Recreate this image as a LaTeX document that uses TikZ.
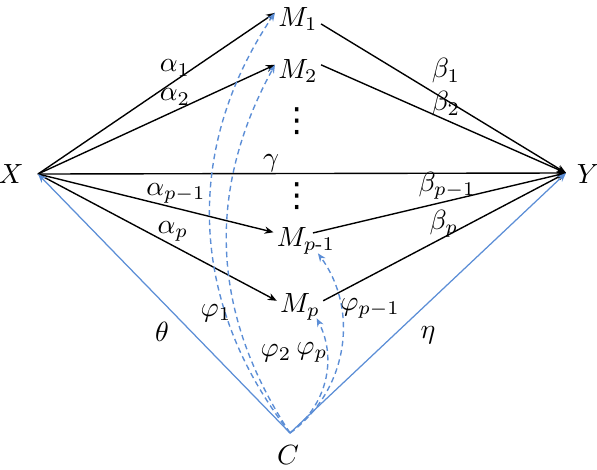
\documentclass[tikz,border=0pt]{standalone}
\usepackage{amsmath}
\usepackage{fontspec}
\newfontfamily\dotsfont{DejaVu Sans}
\usetikzlibrary{arrows.meta}
\definecolor{pathblue}{RGB}{92,142,214}
\begin{document}
\begin{tikzpicture}[x=0.36pt, y=-0.36pt,
    arr/.style  = {-{Stealth[length=3.2pt,width=2.6pt]}, line width=0.5pt},
    barr/.style = {-{Stealth[length=3.2pt,width=2.6pt]}, pathblue, line width=0.45pt},
    darr/.style = {-{Stealth[length=3pt,width=2.4pt]}, pathblue, line width=0.5pt, dash pattern=on 2pt off 1.4pt},
    mnode/.style = {inner xsep=1pt, inner ysep=3pt},
    vdotsnode/.style = {inner sep=0pt, font=\dotsfont\large}]
      \useasboundingbox (0,0) rectangle (597,470);

      %points
      \coordinate (X) at ( 38,174);
      \coordinate (Y) at (566,173);
      \coordinate (C) at (290,433);
      \node[name=Xlab] at ( 11,174) {$X$};
      \node[name=Ylab] at (588,174) {$Y$};
      \node[name=Clab] at (288,455) {$C$};

      %mediators
      \node[mnode, name=M1] at (298, 19) {$M_1$};
      \node[mnode, name=M2] at (298, 71) {$M_2$};
      \node[mnode, name=Mq] at (306,241) {$M_{p\text{-}1}$};
      \node[mnode, name=Mp] at (300,307) {$M_p$};
      \node[vdotsnode, name=dots1] at (297,121) {⋮};
      \node[vdotsnode, name=dots2] at (297,196) {⋮};
      \coordinate (Mq out) at ([shift={(2.5pt,2.9pt)}]Mq.center);

      %paths
      \draw[arr] (X) -- (M1.165);
      \draw[arr] (X) -- (M2.165);
      \draw[arr] (X) -- (Mq.165);
      \draw[arr] (X) -- (Mp.165);
      \draw[arr] (X) -- (Y);
      \draw[arr] (M1.-12) -- (Y);
      \draw[arr] (M2.15)  -- (Y);
      \draw[arr] (Mq out) -- (Y);
      \draw[arr] (Mp.15)  -- (Y);
      \draw[barr] (C) -- (X);
      \draw[barr] (C) -- (Y);

      %covariates
      \draw[darr] (C) to[bend left=36]  (M1.165);
      \draw[darr] (C) to[bend left=31]  (M2.165);
      \draw[darr] (C) to[bend right=45] ([xshift=4.3pt,yshift=3.6pt]Mq.south);
      \draw[darr] (C) to[bend right=40] ([xshift=6pt,yshift=4pt]Mp.south);

      %labels
      \node[name=a1] at (175, 68) {$\alpha_1$};
      \node[name=a2] at (175, 97) {$\alpha_2$};
      \node[name=aq] at (176,193) {$\alpha_{p-1}$};
      \node[name=ap] at (173,231) {$\alpha_p$};
      \node[name=b1] at (446, 71) {$\beta_1$};
      \node[name=b2] at (446,104) {$\beta_2$};
      \node[name=bq] at (447,186) {$\beta_{p-1}$};
      \node[name=bp] at (444,224) {$\beta_p$};
      \node[name=g ] at (271,163) {$\gamma$};
      \node[name=f1] at (216,313) {$\varphi_1$};
      \node[name=f2] at (276,353) {$\varphi_2$};
      \node[name=fp] at (312,352) {$\varphi_p$};
      \node[name=fq] at (370,308) {$\varphi_{p-1}$};
      \node[name=th] at (162,332) {$\theta$};
      \node[name=et] at (428,335) {$\eta$};
\end{tikzpicture}
\end{document}
